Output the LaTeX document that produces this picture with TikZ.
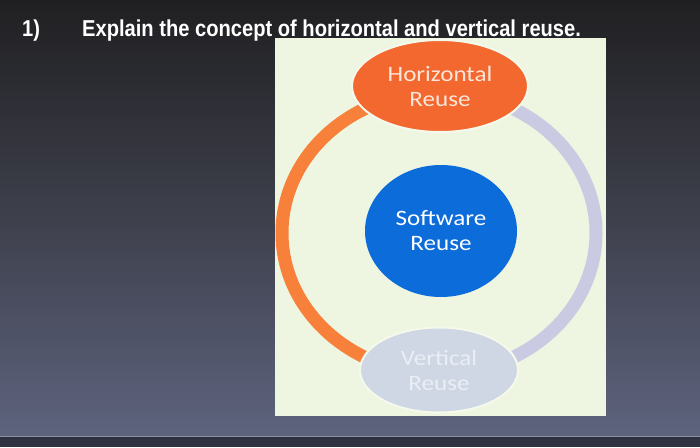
\documentclass[tikz,border=0pt]{standalone}
\usepackage{fontspec}
\usetikzlibrary{shapes.geometric}
\newfontfamily\carlito[FakeStretch=1.14]{Carlito}
\newfontfamily\titlefont[FakeStretch=0.875]{Liberation Sans Bold}
\definecolor{bgtop}{HTML}{202022}
\definecolor{bgmid}{HTML}{3E404C}
\definecolor{bgbot}{HTML}{5E637E}
\definecolor{panel}{HTML}{EEF5E0}
\definecolor{horfill}{HTML}{F2682F}
\definecolor{horarc}{HTML}{F7813A}
\definecolor{swfill}{HTML}{0B6CDA}
\definecolor{verfill}{HTML}{CFD6E4}
\definecolor{verarc}{HTML}{CACBE2}
\definecolor{vertext}{HTML}{EAEEF5}
\definecolor{hortext}{HTML}{FCE6DA}
\definecolor{strip}{HTML}{2E3140}
\tikzset{
  blob/.style={ellipse, inner sep=0pt, draw=panel!60!white, line width=2pt, align=center,
    font=\carlito\fontsize{22}{25}\selectfont},
  ringarc/.style={line width=13pt, line cap=butt},
  titletext/.style={text=white, inner sep=0pt, font=\titlefont\fontsize{23}{27}\selectfont}
}
\begin{document}
\begin{tikzpicture}[x=1pt,y=-1pt]
\useasboundingbox (0,0) rectangle (700,447);
% screen background
\shade[top color=bgtop, bottom color=bgbot, middle color=bgmid] (0,0) rectangle (700,436);
\fill[strip] (0,436) rectangle (700,447);
\draw[bgbot!70!white, line width=1pt] (0,436) -- (700,436);
% panel
\fill[panel] (275,38) rectangle (606,416);
% title
\node[titletext, anchor=base west] (num) at (22,36) {1)};
\node[titletext, anchor=base west] (title) at (82,36) {Explain the concept of horizontal and vertical reuse.};
% ring
\coordinate (ringtop) at (439,92);
\draw[ringarc, horarc] (ringtop) arc[start angle=90, end angle=270, x radius=157pt, y radius=141pt];
\draw[ringarc, verarc] (ringtop) arc[start angle=90, end angle=-90, x radius=157pt, y radius=141pt];
% nodes
\node[blob, fill=horfill, text=hortext, minimum width=176pt, minimum height=92pt] (hor) at (440,86) {Horizontal\\Reuse};
\node[blob, fill=swfill, text=white, draw=none, minimum width=152pt, minimum height=132pt] (sw) at (441,231) {Software\\Reuse};
\node[blob, fill=verfill, text=vertext, minimum width=158pt, minimum height=85pt] (ver) at (439,370) {Vertical\\Reuse};
\end{tikzpicture}
\end{document}
